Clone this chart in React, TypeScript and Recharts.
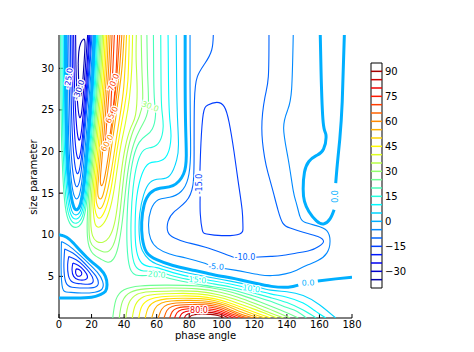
import { ScatterChart, Scatter, XAxis, YAxis, ReferenceArea } from "recharts";

type Pt = [number, number];
interface Contour {
  level: number;
  pts: Pt[];
}

const FONT = "DejaVu Sans, sans-serif";

const X_TICKS = [0, 20, 40, 60, 80, 100, 120, 140, 160, 180];
const Y_TICKS = [5, 10, 15, 20, 25, 30];
const CBAR_TICKS = [-30, -15, 0, 15, 30, 45, 60, 75, 90];
const CBAR_LEVELS = [
  -35, -30, -25, -20, -15, -10, -5, 0, 5, 10, 15, 20, 25, 30, 35, 40, 45, 50, 55, 60, 65, 70, 75, 80, 85, 90,
];

// level 0 contours, drawn thick (split where a label sits)
const zeroLines: Pt[][] = [
  [[4, 34], [4.2, 28], [4.7, 22], [5.6, 18], [7, 15.2], [9, 13.4], [11, 13], [13, 13.6], [14.8, 15.5], [16.4, 18.3], [17.8, 21.5], [19.2, 25], [20.6, 29], [21.8, 34]],
  [[0, 10], [4.7, 9.7], [8.8, 9.0], [13, 8.1], [17, 7.3], [21, 6.6], [25.2, 5.9], [28.5, 5.0], [29.5, 4.0], [28.5, 3.2], [25.2, 2.8], [20, 2.5], [10, 2.4], [0, 2.4]],
  [[77.5, 34], [77.5, 28], [77.8, 23], [78.2, 19.5], [76.5, 17.3], [70, 15.9], [62, 15.6], [56, 15], [52.3, 13.6], [50.8, 11.5], [51.2, 9.6], [53.8, 7.9], [60, 7.0], [70, 6.3], [83.5, 5.7], [95, 5.2], [106, 4.8], [113, 4.5], [120, 4.2], [130.5, 3.8], [140.8, 3.7], [147, 3.95]],
  [[159, 4.45], [170, 4.7], [180, 4.9]],
  [[160.5, 34], [161, 29.5], [162.3, 23.5], [164, 22], [162.5, 20.3], [158, 19.5], [153.5, 18.8], [150.8, 17.5], [150, 15.5], [150.8, 14], [153.5, 12.8], [158, 11.7], [162.5, 11.3], [166.5, 11.9], [169, 13]],
  [[170, 16.2], [171, 18.5], [172.5, 21.5], [174, 26], [175.3, 34]],
];

// negative basin in the middle and right
const basinLines: Contour[] = [
  { level: -5, pts: [[80.5, 34], [80.5, 28], [80.7, 23], [80.8, 19.5], [79.3, 16.8], [75, 15.2], [68, 14.5], [61, 14.2], [56.5, 13], [55, 11.2], [56.3, 9.5], [60.5, 8.4], [68, 7.7], [78, 7.2], [89, 6.6], [91.5, 6.4]] },
  { level: -5, pts: [[101.5, 5.95], [108, 5.75], [115, 5.5], [123, 5.2], [131, 5.1], [139, 5.3], [146, 5.75], [153, 6.4], [159, 6.9], [164.5, 7.8], [166.5, 9.2], [164.5, 10.5], [158, 11.1], [151, 11.5], [148, 12.2], [145.8, 13.8], [143.9, 15.3], [140.8, 19.1], [138, 22.8], [140.5, 25], [142.9, 27.5], [143.9, 34]] },
  { level: -10, pts: [[94.8, 34], [93.8, 32.2], [89.7, 30.6], [85, 29], [83.2, 26], [83, 20], [82.3, 16], [78, 14], [71, 12.8], [67, 11.6], [67, 10.3], [71, 9.6], [78, 9.1], [90, 8.5], [106, 7.4], [108.5, 7.35]] },
  { level: -10, pts: [[120, 7.3], [130, 7.4], [137, 7.5], [146, 7.8], [154, 8.1], [159.5, 8.6], [162.5, 9.2], [159, 9.8], [150, 10.3], [142, 10.8], [137.5, 11.4], [134.5, 13], [131.5, 15.2], [128.3, 17.5], [126.3, 19.3], [124.6, 22.8], [126.5, 26.5], [128.6, 29], [129, 34]] },
  { level: -15, pts: [[86.7, 14.6], [86.8, 12.5], [88, 10.6], [90.7, 10.1], [100, 9.9], [111, 10.1], [113, 11], [112.5, 13], [110, 16.5], [107.5, 20], [104.5, 23.5], [101.5, 25.4], [96.9, 25.9], [91.5, 25.6], [88.6, 24.5], [87.2, 21], [86.6, 17.7]] },
];

// deep trough on the left, top-left
const troughLines: Contour[] = [
  { level: -5, pts: [[5, 34], [5.3, 28], [5.9, 22], [6.9, 18], [8.6, 15.2], [10.8, 14.3], [12.8, 15], [14.4, 17], [15.8, 19.8], [17.2, 23], [18.7, 27], [20, 30.5], [21.1, 34]] },
  { level: -10, pts: [[6, 34], [6.3, 28], [6.9, 22.5], [7.9, 18.7], [9.6, 16.3], [11.3, 15.8], [12.9, 16.7], [14.3, 18.8], [15.7, 21.8], [17.2, 25.5], [18.6, 29], [20.3, 34]] },
  { level: -15, pts: [[7, 34], [7.3, 28.5], [7.9, 23.5], [8.9, 20], [10.3, 17.8], [11.8, 17.4], [13.2, 18.5], [14.6, 20.8], [16, 24], [17.4, 27.5], [18.8, 31], [19.6, 34]] },
  { level: -20, pts: [[8, 34], [8.3, 29], [8.9, 25], [9.8, 21.5], [11, 19.5], [12.3, 19.2], [13.6, 20.4], [15, 23], [16.3, 26.2], [17.6, 29.5], [18.9, 34]] },
  { level: -25, pts: [[9, 34], [9.3, 29.5], [9.9, 26], [10.7, 23.3], [11.8, 21.6], [12.9, 21.5], [14, 22.8], [15.2, 25.3], [16.4, 28.2], [17.6, 31.5], [18.3, 34]] },
  { level: -30, pts: [[10.2, 34], [10.4, 30.5], [10.9, 27.5], [11.7, 25.2], [12.7, 24.1], [13.8, 24.6], [14.8, 26.5], [15.8, 29], [16.8, 31.8], [17.6, 34]] },
  { level: -35, pts: [[11.8, 30.5], [12.2, 28], [13, 26.7], [13.9, 27.1], [14.7, 28.7], [15.5, 31], [16, 33], [15, 33.5], [13.3, 33], [12.2, 32], [11.8, 30.5]] },
];

// small negative lobe at bottom left
const lobeLines: Contour[] = [
  { level: -5, pts: [[1.5, 9.2], [6, 8.7], [12, 7.7], [18, 6.6], [23.5, 5.5], [26.8, 4.4], [26.5, 3.5], [22, 3.1], [14, 3.0], [6, 3.1], [2.2, 3.6], [1.3, 6], [1.5, 9.2]] },
  { level: -10, pts: [[3.5, 8.3], [8.5, 7.8], [13.5, 7.0], [18.5, 6.0], [22.8, 5.0], [24.2, 4.2], [22, 3.7], [15, 3.6], [8, 3.7], [4.2, 4.3], [3, 6.2], [3.5, 8.3]] },
  { level: -15, pts: [[6, 7.4], [10.5, 7.0], [15, 6.3], [19, 5.4], [21, 4.6], [19.5, 4.1], [14, 4.1], [8.5, 4.3], [5.8, 5.1], [5.3, 6.4], [6, 7.4]] },
  { level: -20, pts: [[8.5, 6.6], [12, 6.3], [15.5, 5.7], [17.5, 5.0], [16, 4.6], [12, 4.6], [9, 5.0], [8, 5.8], [8.5, 6.6]] },
  { level: -25, pts: [[10.5, 5.9], [12.5, 5.8], [14, 5.4], [13, 5.05], [11, 5.1], [10.2, 5.5], [10.5, 5.9]] },
];

// positive lines wrapping the trough (left edge -> under trough -> steep band)
const wrapLines: Contour[] = [
  { level: 5, pts: [[3.3, 34], [3.4, 28], [3.8, 22], [4.6, 18], [5.8, 15], [7.8, 12.9], [10.8, 12.4], [13.6, 13.1], [15.6, 15.2], [17.2, 18.3], [18.7, 21.6], [20.2, 25.2], [21.5, 29.2], [22.6, 34]] },
  { level: 10, pts: [[2.6, 34], [2.7, 28], [3.1, 22], [3.9, 17.8], [5.2, 14.5], [7.4, 12.4], [10.8, 11.9], [14, 12.7], [16.2, 15], [17.8, 18.2], [19.3, 21.6], [20.8, 25.2], [22.1, 29.2], [23.2, 34]] },
  { level: 15, pts: [[1.8, 34], [1.9, 28], [2.3, 22], [3.1, 17.6], [4.5, 14], [7, 11.9], [10.8, 11.4], [14.5, 12.3], [16.8, 14.8], [18.4, 18.1], [19.9, 21.6], [21.4, 25.2], [22.7, 29.2], [23.8, 34]] },
  { level: 20, pts: [[1.0, 34], [1.1, 28], [1.5, 22], [2.3, 17.4], [3.8, 13.5], [6.6, 11.4], [10.8, 10.9], [15, 11.9], [17.4, 14.6], [19, 18], [20.6, 21.6], [22.1, 25.2], [23.4, 29.2], [24.5, 34]] },
];

// the diagonal ridge: open loops hanging from the top edge
const ridgeLines: Contour[] = [
  { level: 25, pts: [[25.2, 34], [24.3, 30], [22.9, 26], [21.4, 22], [19.7, 18], [18.1, 14.5], [17.3, 11.3], [18, 9], [21, 7.7], [25.5, 7.1], [30, 6.7], [33.5, 7.1], [36.4, 8.6], [39, 11.8], [41, 15.5], [43.5, 19], [47, 21.5], [51.5, 23.3], [54.8, 25.2], [54.5, 29], [54, 34]] },
  { level: 30, pts: [[25.9, 34], [25, 30], [23.6, 26], [22.1, 22], [20.4, 18], [19, 14.5], [18.4, 11.3], [19.2, 9.2], [22.3, 8.4], [26.6, 8.0], [31, 8.1], [34.8, 9.6], [37.4, 12.6], [39.4, 16.3], [41.9, 19.8], [45.4, 22.4], [49.3, 24.2], [51.4, 26.2], [51, 29.5], [50.5, 34]] },
  { level: 35, pts: [[26.7, 34], [25.8, 30], [24.4, 26], [22.9, 22], [21.2, 18], [19.9, 14.5], [19.5, 11.6], [20.6, 9.9], [23.2, 9.2], [27, 9.1], [30.8, 9.7], [34, 11.3], [36.2, 14], [38.2, 17.4], [40.8, 20.6], [44.2, 22.9], [47, 24.4], [48, 27.5], [47.4, 31], [47.5, 34]] },
  { level: 40, pts: [[27.5, 34], [26.6, 30], [25.2, 26], [23.7, 22], [22, 18], [20.8, 14.5], [21.2, 12.6], [22.4, 11.2], [25.5, 11], [29.5, 12.1], [32.8, 14.3], [35.3, 17.3], [37.8, 20.5], [40.8, 23.4], [43.3, 26.5], [44.7, 30], [45.2, 34]] },
  { level: 45, pts: [[28.4, 34], [27.5, 30], [26.1, 26], [24.6, 22], [22.9, 18], [21.7, 14.8], [22, 13.2], [23.4, 12.2], [25.8, 12.1], [29, 13.3], [32, 15.6], [34.5, 18.7], [37.2, 22], [40.2, 25.3], [42.3, 28.5], [43.2, 34]] },
  { level: 50, pts: [[29.3, 34], [28.4, 30], [27, 26], [25.5, 22], [23.8, 18], [22.7, 15.2], [23, 13.9], [24.4, 13.2], [26.6, 13.4], [29.4, 15], [32, 17.5], [34.5, 20.6], [37.2, 24], [39.8, 27.8], [41.5, 34]] },
  { level: 55, pts: [[30.3, 34], [29.4, 30], [28, 26], [26.5, 22], [24.8, 18], [23.8, 15.6], [24.1, 14.6], [25.4, 14.3], [27.2, 14.9], [29.6, 17.1], [32, 20.2], [34.6, 23.7], [37.3, 27.7], [38.9, 30.5], [40, 34]] },
  { level: 60, pts: [[31.4, 34], [30.5, 30], [29.1, 26], [27.6, 22], [26, 18.2], [25.4, 16.4], [26.3, 15.9], [27.8, 16.7], [30, 19.1], [32.3, 22.3], [34.8, 25.8], [37, 29.5], [38.6, 34]] },
  { level: 65, pts: [[32.6, 34], [31.7, 30], [30.3, 26], [28.9, 22.3], [28.5, 20.5], [29.5, 20.2], [31.2, 21.8], [33.4, 25], [35.5, 29], [37.3, 34]] },
  { level: 70, pts: [[34, 34], [33.1, 30], [32.1, 26.5], [32, 24.7], [32.9, 24.8], [34.2, 27], [35.2, 30], [36, 34]] },
];

// lines coming down from the top, bending round the zero corner and running along the band
const bandLines: Contour[] = [
  { level: 5, pts: [[72, 34], [72.3, 28], [72.8, 24], [73.4, 21], [72.3, 19], [68, 17.1], [62, 16.7], [56, 16.3], [52, 14.8], [49.6, 12.5], [49.3, 10], [51.2, 8.1], [55.5, 7.0], [60, 6.5], [70, 5.85], [83, 5.25], [95, 4.8], [106, 4.4], [118, 3.9], [130, 3.35], [140, 3.15], [150, 2.7], [160, 1.6], [170, 0]] },
  { level: 10, pts: [[67, 34], [67.3, 28], [68, 24], [68.8, 21.8], [66.5, 19.6], [61, 18.8], [55.5, 18.6], [51, 17.3], [47.8, 14.6], [46.8, 11.5], [47.2, 8.7], [50, 6.8], [55, 6.2], [60, 6.05], [70, 5.45], [83, 4.85], [95, 4.45], [106, 4.05], [118, 3.5], [130, 2.9], [140, 2.5], [150, 1.8], [157, 0.9], [164, 0]] },
  { level: 15, pts: [[62.5, 34], [62.7, 28], [63.2, 25], [64, 23], [61.8, 21.2], [57, 20.5], [52.3, 20.2], [48.3, 18.7], [45.5, 15.6], [44.3, 12], [44.5, 8.6], [46.8, 6.3], [52, 5.65], [60, 5.6], [70, 5.05], [83, 4.5], [95, 4.1], [106, 3.7], [118, 3.1], [130, 2.45], [140, 1.85], [150, 0.95], [158, 0]] },
  { level: 20, pts: [[58, 34], [58.2, 29], [58.7, 26], [59.3, 24.4], [57.3, 22.7], [53.3, 21.9], [49.3, 21.1], [45.8, 19.3], [43.2, 16.1], [41.9, 12.4], [41.8, 8.8], [43.6, 6], [49, 5.1], [60, 5.1], [70, 4.65], [83, 4.15], [95, 3.75], [106, 3.4], [118, 2.75], [130, 2.0], [140, 1.25], [146, 0.8], [152, 0]] },
];

// the strong peak sitting on the bottom edge
const peakLines: Contour[] = [
  { level: 25, pts: [[33, 0], [35, 2.2], [40, 3.4], [50, 3.85], [65, 3.95], [85, 3.85], [100, 3.4], [112, 2.75], [124, 1.9], [136, 0.95], [147, 0]] },
  { level: 30, pts: [[37, 0], [39, 2], [44, 3.1], [53, 3.5], [68, 3.6], [85, 3.5], [99, 3.1], [110, 2.5], [121, 1.7], [132, 0.85], [142, 0]] },
  { level: 35, pts: [[41, 0], [43, 1.8], [48, 2.85], [56, 3.15], [70, 3.25], [85, 3.2], [98, 2.8], [108, 2.25], [118, 1.55], [128, 0.75], [138, 0]] },
  { level: 40, pts: [[45, 0], [47, 1.6], [52, 2.55], [60, 2.85], [72, 2.95], [85, 2.9], [97, 2.55], [106, 2.05], [115, 1.4], [125, 0.7], [134, 0]] },
  { level: 45, pts: [[49, 0], [51, 1.45], [56, 2.25], [63, 2.55], [74, 2.65], [86, 2.6], [96, 2.3], [104, 1.85], [112, 1.3], [121, 0.62], [130, 0]] },
  { level: 50, pts: [[53, 0], [55, 1.3], [59.5, 2.0], [66, 2.3], [76, 2.38], [87, 2.33], [96, 2.08], [103, 1.68], [110, 1.18], [118, 0.58], [126.5, 0]] },
  { level: 55, pts: [[57, 0], [59, 1.15], [63, 1.8], [69, 2.05], [78, 2.12], [88, 2.08], [96, 1.85], [102, 1.52], [108, 1.05], [115, 0.5], [123, 0]] },
  { level: 60, pts: [[61, 0], [63, 1.02], [66.5, 1.58], [72, 1.8], [80, 1.86], [89, 1.82], [96, 1.63], [101, 1.35], [106, 0.93], [112, 0.46], [119.5, 0]] },
  { level: 65, pts: [[64.5, 0], [66.3, 0.9], [69.5, 1.38], [74.5, 1.57], [82, 1.62], [90, 1.58], [96, 1.41], [100.5, 1.17], [105, 0.8], [110, 0.4], [116, 0]] },
  { level: 70, pts: [[68, 0], [69.6, 0.76], [72.5, 1.17], [77, 1.34], [83.5, 1.38], [90.5, 1.35], [96, 1.21], [100, 0.99], [104, 0.67], [108.5, 0.33], [113, 0]] },
  { level: 75, pts: [[71, 0], [72.5, 0.63], [75.3, 0.98], [79.5, 1.12], [85, 1.15], [91, 1.12], [96, 1.0], [99.5, 0.8], [103, 0.54], [106.5, 0.27], [110, 0]] },
  { level: 80, pts: [[74, 0], [75.3, 0.5], [78, 0.78], [81.8, 0.9], [86.5, 0.93], [91.5, 0.9], [96, 0.79], [99, 0.64], [102, 0.43], [104.8, 0.21], [107, 0]] },
  { level: 85, pts: [[77, 0], [78.2, 0.38], [80.6, 0.58], [84, 0.68], [88, 0.7], [92, 0.67], [95.8, 0.59], [98.5, 0.47], [101, 0.31], [102.8, 0.15], [104, 0]] },
  { level: 90, pts: [[80, 0], [81, 0.26], [83.2, 0.4], [86, 0.46], [89.5, 0.47], [93, 0.44], [95.8, 0.38], [98, 0.28], [99.8, 0.17], [101, 0]] },
];

const contourLabels = [
  { x: 86.6, y: 16.1, text: "-15.0", level: -15, angle: -90 },
  { x: 114.2, y: 7.3, text: "-10.0", level: -10, angle: 0 },
  { x: 96.5, y: 6.15, text: "-5.0", level: -5, angle: 3 },
  { x: 153, y: 4.2, text: "0.0", level: 0, angle: -2 },
  { x: 169.6, y: 14.6, text: "0.0", level: 0, angle: -90 },
  { x: 56, y: 25.4, text: "30.0", level: 30, angle: 20 },
  { x: 33.6, y: 28.3, text: "70.0", level: 70, angle: -68 },
  { x: 32.6, y: 24.4, text: "65.0", level: 65, angle: -62 },
  { x: 29.7, y: 21, text: "60.0", level: 60, angle: -62 },
  { x: 6, y: 28.8, text: "-25.0", level: -25, angle: -82 },
  { x: 12.3, y: 27.4, text: "-30.0", level: -30, angle: -72 },
  { x: 60, y: 5.2, text: "20.0", level: 20, angle: 4 },
  { x: 85, y: 4.55, text: "15.0", level: 15, angle: 4 },
  { x: 118, y: 3.5, text: "10.0", level: 10, angle: 8 },
  { x: 86, y: 0.95, text: "80.0", level: 80, angle: 0 },
];

// matplotlib "jet" over the contour level range
const jet = (v: number) => {
  const t = (v + 40) / 135;
  const c = (d: number) => Math.round(255 * Math.max(0, Math.min(1, 1.5 - Math.abs(4 * t - d))));
  return `rgb(${c(3)},${c(2)},${c(1)})`;
};

const toXY = (pts: Pt[]) => pts.map(([x, y]) => ({ x, y }));
const noDot = () => <g />;

const thinLines: Contour[] = [
  ...troughLines,
  ...lobeLines,
  ...wrapLines,
  ...ridgeLines,
  ...bandLines,
  ...peakLines,
  ...basinLines,
];

function ContourLabel(props: any) {
  const { cx, cy, payload } = props;
  if (cx == null || cy == null) return <g />;
  return (
    <text
      x={cx}
      y={cy}
      transform={`rotate(${payload.angle} ${cx} ${cy})`}
      textAnchor="middle"
      dominantBaseline="central"
      fontSize={8}
      fontFamily={FONT}
      fill={jet(payload.level)}
      stroke="#fff"
      strokeWidth={2.5}
      paintOrder="stroke"
    >
      {payload.text}
    </text>
  );
}

const tickStyle = { fill: "#000", fontSize: 10, fontFamily: FONT };
const minus = (v: number) => (v < 0 ? `\u2212${Math.abs(v)}` : String(v));

export default function App() {
  return (
    <div style={{ position: "absolute", left: 0, top: 0, width: 474, height: 352, background: "#fff" }}>
      <ScatterChart width={474} height={352} margin={{ top: 35, right: 122, bottom: 14, left: 19 }}>
        <XAxis
          dataKey="x"
          type="number"
          domain={[0, 180]}
          ticks={X_TICKS}
          interval={0}
          allowDataOverflow
          height={20}
          stroke="#000"
          tickSize={-4}
          tickMargin={6.5}
          tick={tickStyle}
        />
        <XAxis
          xAxisId="top"
          orientation="top"
          type="number"
          domain={[0, 180]}
          ticks={X_TICKS}
          interval={0}
          allowDataOverflow
          height={0}
          stroke="#000"
          tickSize={-4}
          tick={false}
        />
        <YAxis
          dataKey="y"
          type="number"
          domain={[0, 34]}
          ticks={Y_TICKS}
          interval={0}
          allowDataOverflow
          width={40}
          stroke="#000"
          tickSize={-4}
          tickMargin={9}
          tick={tickStyle}
        />
        <YAxis
          yAxisId="right"
          orientation="right"
          type="number"
          domain={[0, 34]}
          ticks={Y_TICKS}
          interval={0}
          allowDataOverflow
          width={0}
          stroke="#000"
          tickSize={-4}
          tick={false}
        />
        {thinLines.map((c, i) => (
          <Scatter
            key={`c${i}`}
            data={toXY(c.pts)}
            line={{ stroke: jet(c.level), strokeWidth: 1.1 }}
            lineJointType="natural"
            shape={noDot}
            isAnimationActive={false}
          />
        ))}
        {zeroLines.map((pts, i) => (
          <Scatter
            key={`z${i}`}
            data={toXY(pts)}
            line={{ stroke: jet(0), strokeWidth: 3 }}
            lineJointType="natural"
            shape={noDot}
            isAnimationActive={false}
          />
        ))}
        <Scatter data={contourLabels} shape={ContourLabel} isAnimationActive={false} />
      </ScatterChart>

      <div
        style={{
          position: "absolute",
          left: 205.5,
          top: 335.5,
          transform: "translate(-50%, -50%)",
          font: `10px ${FONT}`,
          lineHeight: "10px",
          whiteSpace: "nowrap",
          color: "#000",
        }}
      >
        phase angle
      </div>
      <div
        style={{
          position: "absolute",
          left: 34.2,
          top: 176.5,
          transform: "translate(-50%, -50%) rotate(-90deg)",
          font: `10px ${FONT}`,
          lineHeight: "10px",
          whiteSpace: "nowrap",
          color: "#000",
        }}
      >
        size parameter
      </div>

      <div style={{ position: "absolute", left: 360, top: 0 }}>
        <ScatterChart width={70} height={352} margin={{ top: 63, right: 0, bottom: 64, left: 11 }}>
          <XAxis dataKey="x" type="number" domain={[0, 1]} hide allowDataOverflow />
          <YAxis
            dataKey="y"
            orientation="right"
            type="number"
            domain={[-40, 95]}
            ticks={CBAR_TICKS}
            interval={0}
            allowDataOverflow
            width={48}
            axisLine={false}
            tickLine={false}
            tickSize={0}
            tickMargin={3}
            tick={tickStyle}
            tickFormatter={minus}
          />
          {CBAR_LEVELS.map((lv) => (
            <Scatter
              key={lv}
              data={[
                { x: 0, y: lv },
                { x: 1, y: lv },
              ]}
              line={{ stroke: jet(lv), strokeWidth: 1.5 }}
              shape={noDot}
              isAnimationActive={false}
            />
          ))}
          <ReferenceArea x1={0} x2={1} y1={-40} y2={95} fill="none" stroke="#000" strokeWidth={1} />
        </ScatterChart>
      </div>
    </div>
  );
}
